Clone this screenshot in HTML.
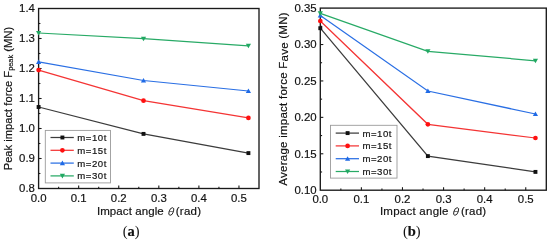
<!DOCTYPE html>
<html><head><meta charset="utf-8"><style>
html,body{margin:0;padding:0;background:#fff;width:550px;height:241px;overflow:hidden}
svg{display:block;will-change:transform}
text{font-family:"Liberation Sans",sans-serif;fill:#111;stroke:#111;stroke-width:0.18px}
.t{font-size:11.4px;letter-spacing:0.0px}
.a{font-size:11.5px;letter-spacing:0px}
.l{font-size:9.6px;letter-spacing:0.55px}
.it{font-style:italic;font-family:"Liberation Serif",serif;font-size:13.0px}
.p{font-family:"Liberation Serif",serif;font-weight:bold;font-size:14.5px}
.pp{font-weight:normal;stroke-width:0}
</style></head><body>
<svg width="550" height="241" viewBox="0 0 550 241">
<rect x="38.60" y="8.50" width="220.40" height="180.00" fill="none" stroke="#1a1a1a" stroke-width="1.35"/>
<text x="38.60" y="201.70" class="t" text-anchor="middle">0.0</text>
<line x1="58.64" y1="188.50" x2="58.64" y2="186.70" stroke="#1a1a1a" stroke-width="1.1"/>
<line x1="78.67" y1="188.50" x2="78.67" y2="185.50" stroke="#1a1a1a" stroke-width="1.1"/>
<text x="78.67" y="201.70" class="t" text-anchor="middle">0.1</text>
<line x1="98.71" y1="188.50" x2="98.71" y2="186.70" stroke="#1a1a1a" stroke-width="1.1"/>
<line x1="118.75" y1="188.50" x2="118.75" y2="185.50" stroke="#1a1a1a" stroke-width="1.1"/>
<text x="118.75" y="201.70" class="t" text-anchor="middle">0.2</text>
<line x1="138.78" y1="188.50" x2="138.78" y2="186.70" stroke="#1a1a1a" stroke-width="1.1"/>
<line x1="158.82" y1="188.50" x2="158.82" y2="185.50" stroke="#1a1a1a" stroke-width="1.1"/>
<text x="158.82" y="201.70" class="t" text-anchor="middle">0.3</text>
<line x1="178.85" y1="188.50" x2="178.85" y2="186.70" stroke="#1a1a1a" stroke-width="1.1"/>
<line x1="198.89" y1="188.50" x2="198.89" y2="185.50" stroke="#1a1a1a" stroke-width="1.1"/>
<text x="198.89" y="201.70" class="t" text-anchor="middle">0.4</text>
<line x1="218.93" y1="188.50" x2="218.93" y2="186.70" stroke="#1a1a1a" stroke-width="1.1"/>
<line x1="238.96" y1="188.50" x2="238.96" y2="185.50" stroke="#1a1a1a" stroke-width="1.1"/>
<text x="238.96" y="201.70" class="t" text-anchor="middle">0.5</text>
<text x="34.90" y="192.30" class="t" text-anchor="end">0.8</text>
<line x1="38.60" y1="173.50" x2="40.40" y2="173.50" stroke="#1a1a1a" stroke-width="1.1"/>
<line x1="38.60" y1="158.50" x2="41.60" y2="158.50" stroke="#1a1a1a" stroke-width="1.1"/>
<text x="34.90" y="162.30" class="t" text-anchor="end">0.9</text>
<line x1="38.60" y1="143.50" x2="40.40" y2="143.50" stroke="#1a1a1a" stroke-width="1.1"/>
<line x1="38.60" y1="128.50" x2="41.60" y2="128.50" stroke="#1a1a1a" stroke-width="1.1"/>
<text x="34.90" y="132.30" class="t" text-anchor="end">1.0</text>
<line x1="38.60" y1="113.50" x2="40.40" y2="113.50" stroke="#1a1a1a" stroke-width="1.1"/>
<line x1="38.60" y1="98.50" x2="41.60" y2="98.50" stroke="#1a1a1a" stroke-width="1.1"/>
<text x="34.90" y="102.30" class="t" text-anchor="end">1.1</text>
<line x1="38.60" y1="83.50" x2="40.40" y2="83.50" stroke="#1a1a1a" stroke-width="1.1"/>
<line x1="38.60" y1="68.50" x2="41.60" y2="68.50" stroke="#1a1a1a" stroke-width="1.1"/>
<text x="34.90" y="72.30" class="t" text-anchor="end">1.2</text>
<line x1="38.60" y1="53.50" x2="40.40" y2="53.50" stroke="#1a1a1a" stroke-width="1.1"/>
<line x1="38.60" y1="38.50" x2="41.60" y2="38.50" stroke="#1a1a1a" stroke-width="1.1"/>
<text x="34.90" y="42.30" class="t" text-anchor="end">1.3</text>
<line x1="38.60" y1="23.50" x2="40.40" y2="23.50" stroke="#1a1a1a" stroke-width="1.1"/>
<text x="34.90" y="12.30" class="t" text-anchor="end">1.4</text>
<polyline points="38.60,107.00 143.51,133.90 248.42,153.10" fill="none" stroke="#3c3c3c" stroke-width="1.25"/>
<rect x="36.65" y="105.05" width="3.90" height="3.90" fill="#111"/>
<rect x="141.56" y="131.95" width="3.90" height="3.90" fill="#111"/>
<rect x="246.47" y="151.15" width="3.90" height="3.90" fill="#111"/>
<polyline points="38.60,70.10 143.51,100.70 248.42,117.90" fill="none" stroke="#f43434" stroke-width="1.25"/>
<circle cx="38.60" cy="70.10" r="2.35" fill="#ff1010"/>
<circle cx="143.51" cy="100.70" r="2.35" fill="#ff1010"/>
<circle cx="248.42" cy="117.90" r="2.35" fill="#ff1010"/>
<polyline points="38.60,61.90 143.51,80.50 248.42,91.00" fill="none" stroke="#2a6fe4" stroke-width="1.25"/>
<path d="M38.60 59.42L41.20 63.93L36.00 63.93Z" fill="#1f6ae6"/>
<path d="M143.51 78.02L146.11 82.53L140.91 82.53Z" fill="#1f6ae6"/>
<path d="M248.42 88.52L251.02 93.03L245.82 93.03Z" fill="#1f6ae6"/>
<polyline points="38.60,33.00 143.51,38.70 248.42,45.80" fill="none" stroke="#28aa66" stroke-width="1.25"/>
<path d="M38.60 35.48L41.20 30.97L36.00 30.97Z" fill="#21a862"/>
<path d="M143.51 41.18L146.11 36.67L140.91 36.67Z" fill="#21a862"/>
<path d="M248.42 48.28L251.02 43.77L245.82 43.77Z" fill="#21a862"/>
<rect x="45.30" y="130.40" width="65.20" height="52.50" fill="#fff" stroke="#9a9a9a" stroke-width="0.9"/>
<line x1="50.50" y1="137.50" x2="73.80" y2="137.50" stroke="#3c3c3c" stroke-width="1.25"/>
<rect x="60.45" y="135.55" width="3.90" height="3.90" fill="#111"/>
<text x="77.20" y="140.90" class="l">m=10t</text>
<line x1="50.50" y1="150.30" x2="73.80" y2="150.30" stroke="#f43434" stroke-width="1.25"/>
<circle cx="62.40" cy="150.30" r="2.35" fill="#ff1010"/>
<text x="77.20" y="153.70" class="l">m=15t</text>
<line x1="50.50" y1="163.10" x2="73.80" y2="163.10" stroke="#2a6fe4" stroke-width="1.25"/>
<path d="M62.40 160.62L65.00 165.13L59.80 165.13Z" fill="#1f6ae6"/>
<text x="77.20" y="166.50" class="l">m=20t</text>
<line x1="50.50" y1="175.90" x2="73.80" y2="175.90" stroke="#28aa66" stroke-width="1.25"/>
<path d="M62.40 178.38L65.00 173.87L59.80 173.87Z" fill="#21a862"/>
<text x="77.20" y="179.30" class="l">m=30t</text>
<text transform="translate(11.60,98.60) rotate(-90)" text-anchor="middle" style="font-size:11.2px;letter-spacing:0.0px">Peak impact force F<tspan style="font-size:7.4px" dy="1.3">peak</tspan><tspan dy="-1.3"> (MN)</tspan></text>
<text x="96.90" y="215.3" class="a" textLength="66.80" lengthAdjust="spacing">Impact angle</text>
<g transform="translate(171.30,211.50) skewX(-17)"><ellipse rx="2.2" ry="3.8" fill="none" stroke="#111" stroke-width="0.85"/><line x1="-2.2" y1="0" x2="2.2" y2="0" stroke="#111" stroke-width="0.51"/></g>
<text x="175.80" y="215.3" class="a" textLength="25.20" lengthAdjust="spacing">(rad)</text>
<text x="131.20" y="236.0" text-anchor="middle" class="p"><tspan class="pp">(</tspan>a<tspan class="pp">)</tspan></text>
<rect x="320.30" y="8.10" width="226.00" height="182.10" fill="none" stroke="#1a1a1a" stroke-width="1.35"/>
<text x="320.30" y="203.40" class="t" text-anchor="middle">0.0</text>
<line x1="340.85" y1="190.20" x2="340.85" y2="188.40" stroke="#1a1a1a" stroke-width="1.1"/>
<line x1="361.39" y1="190.20" x2="361.39" y2="187.20" stroke="#1a1a1a" stroke-width="1.1"/>
<text x="361.39" y="203.40" class="t" text-anchor="middle">0.1</text>
<line x1="381.94" y1="190.20" x2="381.94" y2="188.40" stroke="#1a1a1a" stroke-width="1.1"/>
<line x1="402.48" y1="190.20" x2="402.48" y2="187.20" stroke="#1a1a1a" stroke-width="1.1"/>
<text x="402.48" y="203.40" class="t" text-anchor="middle">0.2</text>
<line x1="423.03" y1="190.20" x2="423.03" y2="188.40" stroke="#1a1a1a" stroke-width="1.1"/>
<line x1="443.57" y1="190.20" x2="443.57" y2="187.20" stroke="#1a1a1a" stroke-width="1.1"/>
<text x="443.57" y="203.40" class="t" text-anchor="middle">0.3</text>
<line x1="464.12" y1="190.20" x2="464.12" y2="188.40" stroke="#1a1a1a" stroke-width="1.1"/>
<line x1="484.66" y1="190.20" x2="484.66" y2="187.20" stroke="#1a1a1a" stroke-width="1.1"/>
<text x="484.66" y="203.40" class="t" text-anchor="middle">0.4</text>
<line x1="505.21" y1="190.20" x2="505.21" y2="188.40" stroke="#1a1a1a" stroke-width="1.1"/>
<line x1="525.75" y1="190.20" x2="525.75" y2="187.20" stroke="#1a1a1a" stroke-width="1.1"/>
<text x="525.75" y="203.40" class="t" text-anchor="middle">0.5</text>
<text x="316.60" y="194.00" class="t" text-anchor="end">0.10</text>
<line x1="320.30" y1="171.99" x2="322.10" y2="171.99" stroke="#1a1a1a" stroke-width="1.1"/>
<line x1="320.30" y1="153.78" x2="323.30" y2="153.78" stroke="#1a1a1a" stroke-width="1.1"/>
<text x="316.60" y="157.58" class="t" text-anchor="end">0.15</text>
<line x1="320.30" y1="135.57" x2="322.10" y2="135.57" stroke="#1a1a1a" stroke-width="1.1"/>
<line x1="320.30" y1="117.36" x2="323.30" y2="117.36" stroke="#1a1a1a" stroke-width="1.1"/>
<text x="316.60" y="121.16" class="t" text-anchor="end">0.20</text>
<line x1="320.30" y1="99.15" x2="322.10" y2="99.15" stroke="#1a1a1a" stroke-width="1.1"/>
<line x1="320.30" y1="80.94" x2="323.30" y2="80.94" stroke="#1a1a1a" stroke-width="1.1"/>
<text x="316.60" y="84.74" class="t" text-anchor="end">0.25</text>
<line x1="320.30" y1="62.73" x2="322.10" y2="62.73" stroke="#1a1a1a" stroke-width="1.1"/>
<line x1="320.30" y1="44.52" x2="323.30" y2="44.52" stroke="#1a1a1a" stroke-width="1.1"/>
<text x="316.60" y="48.32" class="t" text-anchor="end">0.30</text>
<line x1="320.30" y1="26.31" x2="322.10" y2="26.31" stroke="#1a1a1a" stroke-width="1.1"/>
<text x="316.60" y="11.90" class="t" text-anchor="end">0.35</text>
<polyline points="320.30,28.20 427.88,156.10 535.45,171.90" fill="none" stroke="#3c3c3c" stroke-width="1.25"/>
<rect x="318.35" y="26.25" width="3.90" height="3.90" fill="#111"/>
<rect x="425.93" y="154.15" width="3.90" height="3.90" fill="#111"/>
<rect x="533.50" y="169.95" width="3.90" height="3.90" fill="#111"/>
<polyline points="320.30,21.00 427.88,124.30 535.45,138.00" fill="none" stroke="#f43434" stroke-width="1.25"/>
<circle cx="320.30" cy="21.00" r="2.35" fill="#ff1010"/>
<circle cx="427.88" cy="124.30" r="2.35" fill="#ff1010"/>
<circle cx="535.45" cy="138.00" r="2.35" fill="#ff1010"/>
<polyline points="320.30,15.50 427.88,91.00 535.45,114.00" fill="none" stroke="#2a6fe4" stroke-width="1.25"/>
<path d="M320.30 13.02L322.90 17.53L317.70 17.53Z" fill="#1f6ae6"/>
<path d="M427.88 88.52L430.48 93.03L425.28 93.03Z" fill="#1f6ae6"/>
<path d="M535.45 111.52L538.05 116.03L532.85 116.03Z" fill="#1f6ae6"/>
<polyline points="320.30,13.40 427.88,51.30 535.45,60.80" fill="none" stroke="#28aa66" stroke-width="1.25"/>
<path d="M320.30 15.88L322.90 11.37L317.70 11.37Z" fill="#21a862"/>
<path d="M427.88 53.78L430.48 49.27L425.28 49.27Z" fill="#21a862"/>
<path d="M535.45 63.28L538.05 58.77L532.85 58.77Z" fill="#21a862"/>
<rect x="330.50" y="125.30" width="66.50" height="52.80" fill="#fff" stroke="#9a9a9a" stroke-width="0.9"/>
<line x1="335.70" y1="133.10" x2="359.00" y2="133.10" stroke="#3c3c3c" stroke-width="1.25"/>
<rect x="345.65" y="131.15" width="3.90" height="3.90" fill="#111"/>
<text x="362.40" y="136.50" class="l">m=10t</text>
<line x1="335.70" y1="145.90" x2="359.00" y2="145.90" stroke="#f43434" stroke-width="1.25"/>
<circle cx="347.60" cy="145.90" r="2.35" fill="#ff1010"/>
<text x="362.40" y="149.30" class="l">m=15t</text>
<line x1="335.70" y1="158.70" x2="359.00" y2="158.70" stroke="#2a6fe4" stroke-width="1.25"/>
<path d="M347.60 156.22L350.20 160.73L345.00 160.73Z" fill="#1f6ae6"/>
<text x="362.40" y="162.10" class="l">m=20t</text>
<line x1="335.70" y1="171.50" x2="359.00" y2="171.50" stroke="#28aa66" stroke-width="1.25"/>
<path d="M347.60 173.98L350.20 169.47L345.00 169.47Z" fill="#21a862"/>
<text x="362.40" y="174.90" class="l">m=30t</text>
<text transform="translate(286.80,98.90) rotate(-90)" text-anchor="middle" style="font-size:11.5px;letter-spacing:0.25px">Average impact force F<tspan dy="1">ave</tspan><tspan dy="-1"> (MN)</tspan></text>
<text x="379.90" y="215.3" class="a" textLength="68.60" lengthAdjust="spacing">Impact angle</text>
<g transform="translate(456.10,211.50) skewX(-17)"><ellipse rx="2.2" ry="3.8" fill="none" stroke="#111" stroke-width="0.85"/><line x1="-2.2" y1="0" x2="2.2" y2="0" stroke="#111" stroke-width="0.51"/></g>
<text x="461.00" y="215.3" class="a" textLength="25.10" lengthAdjust="spacing">(rad)</text>
<text x="411.80" y="236.0" text-anchor="middle" class="p"><tspan class="pp">(</tspan>b<tspan class="pp">)</tspan></text>
</svg></body></html>
